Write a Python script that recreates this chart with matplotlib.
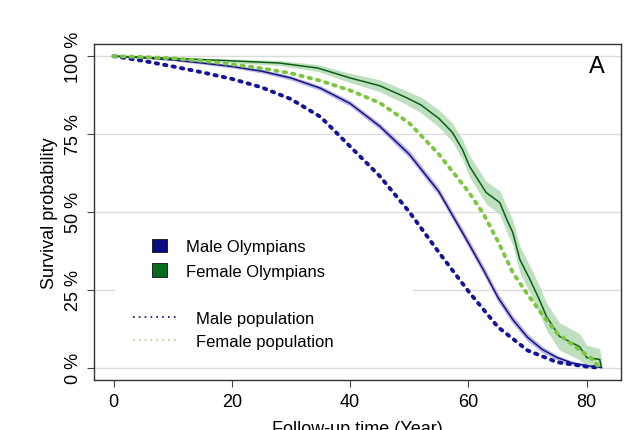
import numpy as np
import matplotlib.pyplot as plt
from matplotlib.patches import Patch, Rectangle
from matplotlib.lines import Line2D

plt.rcParams['font.family'] = ['Liberation Sans', 'DejaVu Sans']

# Male population (dotted navy)
male_pop_t = [0, 5, 10, 15, 20, 25, 30, 35, 40, 45, 50, 55, 60, 65, 70, 75, 80, 82]
male_pop_s = [1.0, 0.985, 0.967, 0.948, 0.927, 0.90, 0.862, 0.805, 0.71, 0.615,
              0.50, 0.37, 0.245, 0.13, 0.055, 0.017, 0.003, 0.0]

# Female population (dotted light green)
female_pop_t = [0, 5, 10, 15, 20, 25, 30, 35, 40, 45, 50, 55, 60, 62.5, 65, 67.5,
                70, 72.5, 75, 77.5, 80, 81, 82]
female_pop_s = [1.0, 0.997, 0.993, 0.985, 0.974, 0.961, 0.945, 0.921, 0.89, 0.85,
                0.785, 0.685, 0.565, 0.495, 0.405, 0.305, 0.235, 0.17, 0.11, 0.075,
                0.04, 0.026, 0.003]

# Male Olympians (solid navy + CI)
male_oly_t = [0, 5, 10, 15, 20, 25, 30, 35, 40, 45, 50, 55, 60, 62.5, 65, 67.5,
              70, 72.5, 75, 77.5, 80, 82.5]
male_oly_s = [1.0, 0.995, 0.988, 0.978, 0.967, 0.952, 0.93, 0.897, 0.848, 0.775,
              0.685, 0.565, 0.40, 0.315, 0.225, 0.154, 0.097, 0.058, 0.032, 0.015,
              0.006, 0.0]
male_oly_ci = [0.0, 0.002, 0.003, 0.004, 0.005, 0.006, 0.007, 0.008, 0.009, 0.01,
               0.012, 0.013, 0.014, 0.014, 0.014, 0.013, 0.012, 0.01, 0.008, 0.006,
               0.004, 0.003]

# Female Olympians (solid dark green + CI)
female_oly_t = [0, 10, 20, 28, 34.5, 40, 45, 49.5, 52, 55, 57.3, 59, 60.2, 63, 65.3,
                66.5, 67.5, 68.7, 70.4, 72, 73.2, 75.4, 78.8, 80, 82.2, 82.5]
female_oly_s = [1.0, 0.993, 0.985, 0.978, 0.962, 0.93, 0.905, 0.867, 0.843, 0.80,
                0.755, 0.70, 0.646, 0.562, 0.53, 0.475, 0.434, 0.347, 0.283, 0.218,
                0.164, 0.10, 0.067, 0.032, 0.026, 0.0]
female_oly_ci = [0.0, 0.003, 0.006, 0.008, 0.011, 0.015, 0.019, 0.022, 0.025, 0.028,
                 0.03, 0.032, 0.034, 0.036, 0.038, 0.04, 0.041, 0.042, 0.043, 0.044,
                 0.044, 0.044, 0.042, 0.04, 0.035, 0.03]

xticks = [0, 20, 40, 60, 80]
yticks = [0, 0.25, 0.5, 0.75, 1.0]
ytick_labels = ['0 %', '25 %', '50 %', '75 %', '100 %']

navy = '#14147a'
navy_dot = '#12129c'
green = '#0b5e14'
lightgreen = '#7cc640'

fig = plt.figure(figsize=(6.4, 4.31), dpi=100)
ax = fig.add_axes([0.1469, 0.116, 0.8234, 0.7803])

ax.set_xlim(-3.3, 85.8)
ax.set_ylim(-0.04, 1.04)

for y in yticks:
    ax.axhline(y, color='#dcdcdc', lw=1, zorder=0)

# white area behind the legend
ax.add_patch(Rectangle((0.04, 0.06), 0.565, 0.38, transform=ax.transAxes,
                       facecolor='white', edgecolor='none', zorder=0.5))

# confidence bands
mo_s = np.array(male_oly_s)
mo_ci = np.array(male_oly_ci)
ax.fill_between(male_oly_t, np.clip(mo_s - mo_ci, 0, 1), np.clip(mo_s + mo_ci, 0, 1),
                color='#a9a2ea', alpha=0.8, lw=0, zorder=1)
fo_s = np.array(female_oly_s)
fo_ci = np.array(female_oly_ci)
ax.fill_between(female_oly_t, np.clip(fo_s - fo_ci, 0, 1), np.clip(fo_s + fo_ci, 0, 1),
                color='#b3dbb5', alpha=0.85, lw=0, zorder=1)

ax.plot(male_oly_t, male_oly_s, color=navy, lw=1.1, zorder=3)
ax.plot(female_oly_t, female_oly_s, color=green, lw=1.1, zorder=3)

ax.plot(male_pop_t, male_pop_s, color=navy_dot, lw=2.8, linestyle=(0, (0.6, 1.6)),
        dash_capstyle='round', zorder=4)
ax.plot(female_pop_t, female_pop_s, color=lightgreen, lw=2.8, linestyle=(0, (0.6, 1.6)),
        dash_capstyle='round', zorder=4)

ax.set_xticks(xticks)
ax.set_yticks(yticks)
ax.set_yticklabels(ytick_labels, rotation=90, va='center')
ax.tick_params(axis='both', direction='out', length=5, width=0.8, color='#444444',
               labelsize=13, pad=4)
for sp in ax.spines.values():
    sp.set_color('#333333')
    sp.set_linewidth(1.0)

ax.set_xlabel('Follow-up time (Year)', fontsize=13, va='top')
ax.xaxis.set_label_coords(0.5, -0.12)
ax.set_ylabel('Survival probability', fontsize=13)
ax.yaxis.set_label_coords(-0.068, 0.5)

ax.text(0.954, 0.935, 'A', transform=ax.transAxes, fontsize=17, ha='center', va='center')

# legends
h1 = [Patch(facecolor='#0a0a82', edgecolor='#111111', lw=0.6),
      Patch(facecolor='#0a6a1e', edgecolor='#111111', lw=0.6)]
leg1 = ax.legend(h1, ['Male Olympians', 'Female Olympians'], loc='upper left',
                 bbox_to_anchor=(0.082, 0.465), frameon=False, fontsize=12,
                 handlelength=0.9, handleheight=0.9, handletextpad=1.1,
                 labelspacing=0.55)
ax.add_artist(leg1)
h2 = [Line2D([], [], color='#0a0a70', lw=1.2, linestyle=(0, (1, 2.5))),
      Line2D([], [], color='#a8d480', lw=1.2, linestyle=(0, (1, 2.5)))]
ax.legend(h2, ['Male population', 'Female population'], loc='upper left',
          bbox_to_anchor=(0.045, 0.25), frameon=False, fontsize=12,
          handlelength=2.6, handletextpad=1.2, labelspacing=0.5)

fig.savefig('out.png', dpi=100)
